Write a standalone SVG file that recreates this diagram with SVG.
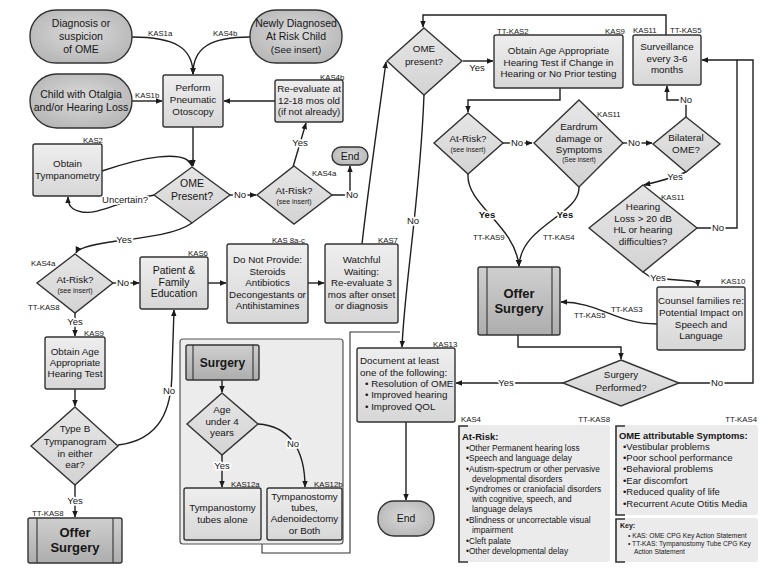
<svg xmlns="http://www.w3.org/2000/svg" width="768" height="569" viewBox="0 0 768 569">
<defs>
<linearGradient id="gBox" x1="0" y1="0" x2="0" y2="1"><stop offset="0" stop-color="#eeeeee"/><stop offset="1" stop-color="#d7d7d7"/></linearGradient>
<radialGradient id="gTerm" cx="0.5" cy="0.45" r="0.65"><stop offset="0" stop-color="#dadada"/><stop offset="1" stop-color="#b3b3b3"/></radialGradient>
<linearGradient id="gDia" x1="0" y1="0" x2="0" y2="1"><stop offset="0" stop-color="#e6e6e6"/><stop offset="1" stop-color="#d3d3d3"/></linearGradient>
<linearGradient id="gOffer" x1="0" y1="0" x2="0" y2="1"><stop offset="0" stop-color="#cfcfcf"/><stop offset="1" stop-color="#adadad"/></linearGradient>
<marker id="ah" viewBox="0 0 10 10" refX="9" refY="5" markerWidth="7" markerHeight="7" markerUnits="userSpaceOnUse" orient="auto"><path d="M0,1 L10,5 L0,9 z" fill="#1a1a1a"/></marker>
</defs>
<style>
text{font-family:"Liberation Sans",Arial,sans-serif;fill:#161616}
.t{font-size:9.8px;text-anchor:middle}
.tl{font-size:10.5px;text-anchor:middle}
.b{font-weight:bold}
.k{font-size:7.8px}
.s{font-size:7px;text-anchor:middle}
.y{font-size:9.5px;text-anchor:middle;stroke:#fff;stroke-width:3.5px;paint-order:stroke;stroke-linejoin:round}
.box{fill:url(#gBox);stroke:#333;stroke-width:1.4}
.term{fill:url(#gTerm);stroke:#333;stroke-width:1.4}
.dia{fill:url(#gDia);stroke:#333;stroke-width:1.4}
.off{fill:url(#gOffer);stroke:#333;stroke-width:1.4}
.ln{fill:none;stroke:#333;stroke-width:1.1}
.c{fill:none;stroke:#1f1f1f;stroke-width:1.4}
.ca{fill:none;stroke:#1f1f1f;stroke-width:1.4;marker-end:url(#ah)}
.ins{fill:#ebebeb;stroke:none}
.br{fill:none;stroke:#333;stroke-width:1.6}
.r{font-size:8.3px}
.o{font-size:9.5px}
</style>
<rect width="768" height="569" fill="#fff"/>

<g id="surgery-panel">
<path class="ln" d="M262,544 V553 H350 V332 H400" stroke="#555"/>
<rect x="180" y="339" width="163" height="205" rx="3" fill="#ececec" stroke="#555" stroke-width="1.2"/>
</g>

<g id="connectors">
<path class="ca" d="M132,37 C175,37 193,48 193,74"/>
<path class="ca" d="M250,37 C210,37 193,48 193,74"/>
<path class="ca" d="M132,101 H162"/>
<path class="ca" d="M275,101 H224"/>
<path class="ca" d="M193,127 V166"/>
<path class="ca" d="M102,171 C140,158 186,148 192,166"/>
<path class="ca" d="M155,195 C120,200 100,215 82,212 C72,210 68,206 68,197"/>
<path class="ca" d="M192,223 C175,235 140,238 110,242 C90,245 78,248 76,253"/>
<path class="ca" d="M230,195 H256"/>
<path class="ca" d="M293,167 L306,123"/>
<path class="ca" d="M332,195 H350 V166"/>
<path class="ca" d="M113,283 H139"/>
<path class="ca" d="M208,283 H226"/>
<path class="ca" d="M308,283 H324"/>
<path class="ca" d="M362,244 C368,190 378,120 386,62"/>
<path class="ca" d="M666,35 V15 H423 V27"/>
<path class="ca" d="M463,61 H493"/>
<path class="ca" d="M560,88 V100 H468 V112"/>
<path class="ca" d="M503,143 H532"/>
<path class="ca" d="M623,143 H652"/>
<path class="ca" d="M686,117 V100 H667 V86"/>
<path class="ca" d="M686,172 Q670,179 644,185"/>
<path class="ca" d="M697,228 H737 V60 H702"/>
<path class="c" d="M678,383 H753 V60 H737"/>
<path class="ca" d="M643,272 L652,278 L690,281 Q698,282 698,286"/>
<path class="ca" d="M657,324 C615,324 600,302 561,302"/>
<path class="ca" d="M468,174 C466,205 515,225 519,266"/>
<path class="ca" d="M579,187 C580,215 521,225 519,266"/>
<path class="ca" d="M518,335 V347 H621 V359"/>
<path class="ca" d="M563,383 H456"/>
<path class="ca" d="M424,95 C420,200 405,280 402,347"/>
<path class="ca" d="M406,422 V500"/>
<path class="ca" d="M75,313 V336"/>
<path class="ca" d="M75,389 V406"/>
<path class="ca" d="M118,445 C160,440 172,410 172,370 L174,310"/>
<path class="ca" d="M75,485 V517"/>
<path class="ca" d="M222,380 V392"/>
<path class="ca" d="M222,454 V487"/>
<path class="ca" d="M258,424 C290,426 305,450 305,487"/>

<text class="y" x="125" y="203">Uncertain?</text>
<text class="y" x="124" y="243">Yes</text>
<text class="y" x="240" y="198">No</text>
<text class="y" x="300" y="146">Yes</text>
<text class="y" x="352" y="198">No</text>
<text class="y" x="123" y="286">No</text>
<text class="y" x="75" y="325">Yes</text>
<text class="y" x="169" y="394">No</text>
<text class="y" x="75" y="504">Yes</text>
<text class="y" x="413" y="224">No</text>
<text class="y" x="477" y="71">Yes</text>
<text class="y" x="517" y="146">No</text>
<text class="y" x="634" y="146">No</text>
<text class="y" x="686" y="103">No</text>
<text class="y" x="675" y="180">Yes</text>
<text class="y b" x="487" y="218">Yes</text>
<text class="y b" x="565" y="218">Yes</text>
<text class="y" x="718" y="231">No</text>
<text class="y" x="658" y="281">Yes</text>
<text class="y" x="506" y="386">Yes</text>
<text class="y" x="717" y="386">No</text>
<text class="y" x="222" y="469">Yes</text>
<text class="y" x="293" y="447">No</text>
</g>

<g id="kas-labels">
<text class="k" x="148" y="36">KAS1a</text>
<text class="k" x="213" y="36">KAS4b</text>
<text class="k" x="135" y="98">KAS1b</text>
<text class="k" x="83" y="143">KAS2</text>
<text class="k" x="320" y="80">KAS4b</text>
<text class="k" x="312" y="176">KAS4a</text>
<text class="k" x="31" y="266">KAS4a</text>
<text class="k" x="28" y="310">TT-KAS8</text>
<text class="k" x="84" y="336">KAS9</text>
<text class="k" x="188" y="256">KAS6</text>
<text class="k" x="272" y="243">KAS 8a-c</text>
<text class="k" x="378" y="243">KAS7</text>
<text class="k" x="433" y="347">KAS13</text>
<text class="k" x="497" y="34">TT-KAS2</text>
<text class="k" x="605" y="34">KAS9</text>
<text class="k" x="633" y="33">KAS11</text>
<text class="k" x="670" y="33">TT-KAS5</text>
<text class="k" x="597" y="117">KAS11</text>
<text class="k" x="473" y="240">TT-KAS9</text>
<text class="k" x="543" y="240">TT-KAS4</text>
<text class="k" x="661" y="200">KAS11</text>
<text class="k" x="721" y="284">KAS10</text>
<text class="k" x="611" y="312">TT-KAS3</text>
<text class="k" x="574" y="318">TT-KAS5</text>
<text class="k" x="32" y="516">TT-KAS8</text>
<text class="k" x="231" y="487">KAS12a</text>
<text class="k" x="314" y="487">KAS12b</text>
<text class="k" x="461" y="422">KAS4</text>
<text class="k" x="610" y="422" style="text-anchor:end">TT-KAS8</text>
<text class="k" x="757" y="422" style="text-anchor:end">TT-KAS4</text>
</g>

<g id="diagnosis">
<rect class="term" x="30" y="10" width="102" height="53" rx="26"/>
<text class="tl" x="81" y="27">Diagnosis or</text>
<text class="tl" x="81" y="40">suspicion</text>
<text class="tl" x="81" y="53">of OME</text>
</g>
<g id="newly-diagnosed">
<rect class="term" x="250" y="10" width="92" height="53" rx="26"/>
<text class="tl" x="296" y="27">Newly Diagnosed</text>
<text class="tl" x="296" y="40">At Risk Child</text>
<text class="t" x="296" y="53">(See insert)</text>
</g>
<g id="child-otalgia">
<rect class="term" x="30" y="74" width="102" height="54" rx="27"/>
<text class="tl" x="81" y="98">Child with Otalgia</text>
<text class="tl" x="81" y="111">and/or Hearing Loss</text>
</g>
<g id="otoscopy">
<rect class="box" x="163" y="75" width="60" height="52" rx="2"/>
<text class="t" x="193" y="91">Perform</text>
<text class="t" x="193" y="103">Pneumatic</text>
<text class="t" x="193" y="115">Otoscopy</text>
</g>
<g id="tympanometry">
<rect class="box" x="33" y="144" width="69" height="52" rx="2"/>
<text class="t" x="67.5" y="167">Obtain</text>
<text class="t" x="67.5" y="179">Tympanometry</text>
</g>
<g id="ome-present-1">
<polygon class="dia" points="192,167 230,195 192,223 154,195"/>
<text class="tl" x="192" y="187">OME</text>
<text class="tl" x="192" y="200">Present?</text>
</g>
<g id="reevaluate">
<rect class="box" x="275" y="80" width="68" height="42" rx="2"/>
<text class="t" x="309" y="92">Re-evaluate at</text>
<text class="t" x="309" y="104">12-18 mos old</text>
<text class="t" x="309" y="115">(if not already)</text>
</g>
<g id="at-risk-2">
<polygon class="dia" points="294,166 332,195 294,224 257,195"/>
<text class="t" x="294" y="194">At-Risk?</text>
<text class="s" x="294" y="204">(see insert)</text>
</g>
<g id="end-1">
<rect class="term" x="332" y="147" width="36" height="18" rx="9"/>
<text class="tl" x="350" y="160">End</text>
</g>
<g id="at-risk-1">
<polygon class="dia" points="75,254 113,283 75,313 37,283"/>
<text class="t" x="75" y="283">At-Risk?</text>
<text class="s" x="75" y="293">(see insert)</text>
</g>
<g id="education">
<rect class="box" x="140" y="257" width="68" height="52" rx="2"/>
<text class="tl" x="174" y="274">Patient &amp;</text>
<text class="tl" x="174" y="286">Family</text>
<text class="tl" x="174" y="297">Education</text>
</g>
<g id="do-not-provide">
<rect class="box" x="227" y="244" width="81" height="79" rx="2"/>
<text class="t" x="267.5" y="263">Do Not Provide:</text>
<text class="t" x="267.5" y="275">Steroids</text>
<text class="t" x="267.5" y="286">Antibiotics</text>
<text class="t" x="267.5" y="298">Decongestants or</text>
<text class="t" x="267.5" y="309">Antihistamines</text>
</g>
<g id="watchful">
<rect class="box" x="325" y="244" width="73" height="79" rx="2"/>
<text class="t" x="361.5" y="263">Watchful</text>
<text class="t" x="361.5" y="275">Waiting:</text>
<text class="t" x="361.5" y="286">Re-evaluate 3</text>
<text class="t" x="361.5" y="298">mos after onset</text>
<text class="t" x="361.5" y="309">or diagnosis</text>
</g>
<g id="ome-present-2">
<polygon class="dia" points="424,28 462,61 424,95 387,61"/>
<text class="t" x="424" y="52">OME</text>
<text class="t" x="424" y="65">present?</text>
</g>
<g id="hearing-test-2">
<rect class="box" x="494" y="35" width="129" height="53" rx="2"/>
<text class="t" x="558.5" y="54">Obtain Age Appropriate</text>
<text class="t" x="558.5" y="66">Hearing Test if Change in</text>
<text class="t" x="558.5" y="77">Hearing or No Prior testing</text>
</g>
<g id="surveillance">
<rect class="box" x="633" y="35" width="68" height="50" rx="2"/>
<text class="t" x="667" y="50">Surveillance</text>
<text class="t" x="667" y="62">every 3-6</text>
<text class="t" x="667" y="73">months</text>
</g>
<g id="at-risk-3">
<polygon class="dia" points="468,113 503,143 468,174 434,143"/>
<text class="t" x="468" y="142">At-Risk?</text>
<text class="s" x="468" y="152">(see insert)</text>
</g>
<g id="eardrum">
<polygon class="dia" points="579,100 623,143 579,187 534,143"/>
<text class="t" x="579" y="130">Eardrum</text>
<text class="t" x="579" y="142">damage or</text>
<text class="t" x="579" y="153">Symptoms</text>
<text class="s" x="579" y="162" style="font-size:6.5px">(See insert)</text>
</g>
<g id="bilateral">
<polygon class="dia" points="686,117 720,144 686,172 653,144"/>
<text class="t" x="686" y="141">Bilateral</text>
<text class="t" x="686" y="153">OME?</text>
</g>
<g id="hearing-loss">
<polygon class="dia" points="643,185 697,228 643,272 589,228"/>
<text class="t" x="643" y="210">Hearing</text>
<text class="t" x="643" y="222">Loss &gt; 20 dB</text>
<text class="t" x="643" y="233">HL or hearing</text>
<text class="t" x="643" y="245">difficulties?</text>
</g>
<g id="counsel">
<rect class="box" x="657" y="287" width="88" height="63" rx="2"/>
<text class="t" x="701" y="304">Counsel families re:</text>
<text class="t" x="701" y="316">Potential Impact on</text>
<text class="t" x="701" y="328">Speech and</text>
<text class="t" x="701" y="339">Language</text>
</g>
<g id="offer-surgery-2">
<rect class="off" x="478" y="267" width="82" height="68" rx="2"/>
<path class="ln" d="M487,267 V335 M552,267 V335"/>
<text class="b" x="519" y="298" style="font-size:13px;text-anchor:middle">Offer</text>
<text class="b" x="519" y="313" style="font-size:13px;text-anchor:middle">Surgery</text>
</g>
<g id="surgery-performed">
<polygon class="dia" points="621,360 679,383 621,406 563,383"/>
<text class="t" x="621" y="378">Surgery</text>
<text class="t" x="621" y="391">Performed?</text>
</g>
<g id="document">
<rect class="box" x="357" y="348" width="98" height="74" rx="2"/>
<text class="t" x="360" y="364" style="text-anchor:start">Document at least</text>
<text class="t" x="360" y="376" style="text-anchor:start">one of the following:</text>
<text class="t" x="365" y="387" style="text-anchor:start">•  Resolution of OME</text>
<text class="t" x="365" y="398" style="text-anchor:start">•  Improved hearing</text>
<text class="t" x="365" y="410" style="text-anchor:start">•  Improved QOL</text>
</g>
<g id="end-2">
<rect class="term" x="378" y="501" width="56" height="35" rx="16"/>
<text class="tl" x="406" y="522">End</text>
</g>
<g id="hearing-test-1">
<rect class="box" x="45" y="337" width="60" height="52" rx="2"/>
<text class="t" x="75" y="355">Obtain Age</text>
<text class="t" x="75" y="366">Appropriate</text>
<text class="t" x="75" y="377">Hearing Test</text>
</g>
<g id="type-b">
<polygon class="dia" points="75,407 118,446 75,485 31,446"/>
<text class="t" x="75" y="432">Type B</text>
<text class="t" x="75" y="445">Tympanogram</text>
<text class="t" x="75" y="457">in either</text>
<text class="t" x="75" y="468">ear?</text>
</g>
<g id="offer-surgery-1">
<rect class="off" x="28" y="518" width="94" height="45" rx="2"/>
<path class="ln" d="M37,518 V563 M113,518 V563"/>
<text class="b" x="75" y="537" style="font-size:13px;text-anchor:middle">Offer</text>
<text class="b" x="75" y="552" style="font-size:13px;text-anchor:middle">Surgery</text>
</g>
<g id="surgery-header">
<rect class="off" x="186" y="345" width="73" height="35" rx="2"/>
<path class="ln" d="M193,345 V380 M253,345 V380"/>
<text class="b" x="222.5" y="367" style="font-size:12px;text-anchor:middle">Surgery</text>
</g>
<g id="age-under-4">
<polygon class="dia" points="222,393 258,424 222,455 187,424"/>
<text class="t" x="222" y="413">Age</text>
<text class="t" x="222" y="425">under 4</text>
<text class="t" x="222" y="436">years</text>
</g>
<g id="tubes-alone">
<rect class="box" x="184" y="488" width="77" height="52" rx="2"/>
<text class="t" x="222.5" y="511">Tympanostomy</text>
<text class="t" x="222.5" y="523">tubes alone</text>
</g>
<g id="tubes-adenoid">
<rect class="box" x="267" y="488" width="75" height="52" rx="2"/>
<text class="t" x="304.5" y="500">Tympanostomy</text>
<text class="t" x="304.5" y="511">tubes,</text>
<text class="t" x="304.5" y="522">Adenoidectomy</text>
<text class="t" x="304.5" y="534">or Both</text>
</g>

<g id="at-risk-insert">
<rect class="ins" x="459" y="425" width="151" height="137" rx="3"/>
<path class="br" d="M468,426 H459 V562 H468"/>
<text class="b" x="462" y="440" style="font-size:9.5px">At-Risk:</text>
<text class="r" x="466" y="451">•Other Permanent hearing loss</text>
<text class="r" x="466" y="461">•Speech and language delay</text>
<text class="r" x="466" y="472">•Autism-spectrum or other pervasive</text>
<text class="r" x="472" y="482">developmental disorders</text>
<text class="r" x="466" y="492">•Syndromes or craniofacial disorders</text>
<text class="r" x="472" y="502">with cognitive, speech, and</text>
<text class="r" x="472" y="512">language delays</text>
<text class="r" x="466" y="523">•Blindness or uncorrectable visual</text>
<text class="r" x="472" y="533">impairment</text>
<text class="r" x="466" y="544">•Cleft palate</text>
<text class="r" x="466" y="554">•Other developmental delay</text>
</g>
<g id="symptoms-insert">
<rect class="ins" x="616" y="425" width="142" height="90" rx="3"/>
<path class="br" d="M625,426 H616 V515 H625"/>
<text class="b" x="619" y="439" style="font-size:9.4px">OME attributable Symptoms:</text>
<text class="o" x="623" y="450">•Vestibular problems</text>
<text class="o" x="623" y="461">•Poor school performance</text>
<text class="o" x="623" y="472">•Behavioral problems</text>
<text class="o" x="623" y="484">•Ear discomfort</text>
<text class="o" x="623" y="495">•Reduced quality of life</text>
<text class="o" x="623" y="507">•Recurrent Acute Otitis Media</text>
</g>
<g id="key-insert">
<rect class="ins" x="616" y="518" width="142" height="44" rx="3"/>
<path class="br" d="M625,519 H616 V562 H625"/>
<text class="b" x="620" y="528" style="font-size:7px">Key:</text>
<text x="628" y="538" style="font-size:6.7px">•  KAS: OME CPG Key Action Statement</text>
<text x="628" y="546" style="font-size:6.7px">•  TT-KAS: Tympanostomy Tube CPG Key</text>
<text x="634" y="554" style="font-size:6.7px">Action Statement</text>
</g>
</svg>
